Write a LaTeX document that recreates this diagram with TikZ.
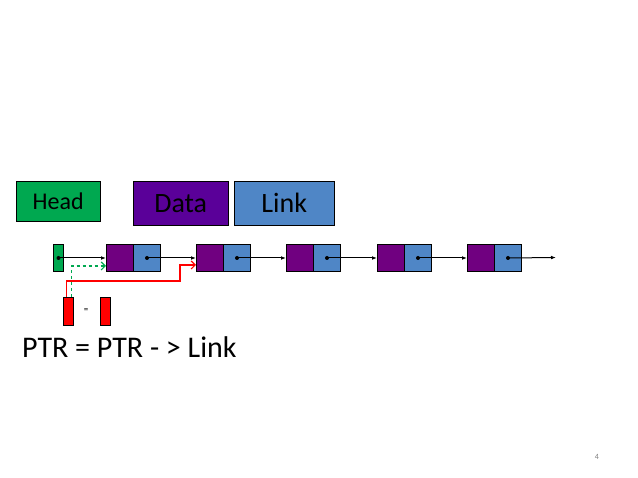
\documentclass[tikz,border=0pt]{standalone}
\usepackage{fontspec}
\setmainfont{Carlito}
\usetikzlibrary{arrows.meta}
\begin{document}
\begin{tikzpicture}[x=1pt,y=-1pt,
  pbox/.style={draw=black,line width=1pt,fill=violet!70!black,minimum width=27pt,minimum height=27pt,inner sep=0,anchor=north west},
  bbox/.style={draw=black,line width=1pt,fill=blue!30!cyan!50!gray,minimum width=27pt,minimum height=27pt,inner sep=0,anchor=north west},
  lnk/.style={line width=1pt,-{Latex[length=5pt]}},
  dotc/.style={circle,fill=black,inner sep=0,minimum size=4pt}]
\useasboundingbox (0,0) rectangle (638,478);
\definecolor{pur}{RGB}{112,0,128}
\definecolor{blu}{RGB}{79,134,198}
\definecolor{grn}{RGB}{0,168,80}
\tikzset{pbox/.append style={fill=pur},bbox/.append style={fill=blu}}
\node[draw=black,fill=grn,minimum width=84pt,minimum height=40pt,anchor=north west,inner sep=0,font=\fontsize{24}{24}\selectfont] (hl) at (16,181) {Head};
\node[draw=black,fill=pur!80!blue,minimum width=95pt,minimum height=44pt,anchor=north west,inner sep=0,font=\fontsize{28}{28}\selectfont] (dl) at (133,181) {Data};
\node[draw=black,fill=blu,minimum width=100pt,minimum height=44pt,anchor=north west,inner sep=0,font=\fontsize{28}{28}\selectfont] (ll) at (234,181) {Link};
\node[draw=black,line width=1pt,fill=grn,minimum width=10pt,minimum height=27pt,inner sep=0,anchor=north west] (h) at (53,244) {};
\foreach \i/\x in {1/106,2/196,3/286,4/377,5/467}{
  \node[pbox] (p\i) at (\x,244) {};
  \node[bbox] (b\i) at (\x+27,244) {};
  \node[dotc] (d\i) at (b\i.center) {};
}
\node[dotc] (dh) at (h.center) {};
\draw[lnk] (dh.center) -- (p1.west);
\draw[lnk] (d1.center) -- (p2.west);
\draw[lnk] (d2.center) -- (p3.west);
\draw[lnk] (d3.center) -- (p4.west);
\draw[lnk] (d4.center) -- (p5.west);
\coordinate (e) at (556,257.5);
\draw[lnk] (d5.center) -- (e);
\node[draw=black,line width=1pt,fill=red,minimum width=10pt,minimum height=28pt,inner sep=0,anchor=north west] (r1) at (63,297) {};
\node[draw=black,line width=1pt,fill=red,minimum width=10pt,minimum height=28pt,inner sep=0,anchor=north west] (r2) at (100,297) {};
\node[font=\small] (eq) at (86,311) {=};
\draw[grn,line width=1.2pt,dashed,-{Straight Barb[length=4pt]}] ([xshift=3pt]r1.north) |- (p1.west |- 0,266);
\draw[red,line width=1.2pt,-{Straight Barb[length=4pt]}] ([xshift=-2pt]r1.north) |- (180,281) |- (p2.west |- 0,265);
\node[anchor=base west,font=\fontsize{30}{30}\selectfont,inner sep=0] (t) at (22,358) {PTR = PTR - > Link};
\node[font=\footnotesize,text=gray] (n) at (597,457) {4};
\end{tikzpicture}
\end{document}
